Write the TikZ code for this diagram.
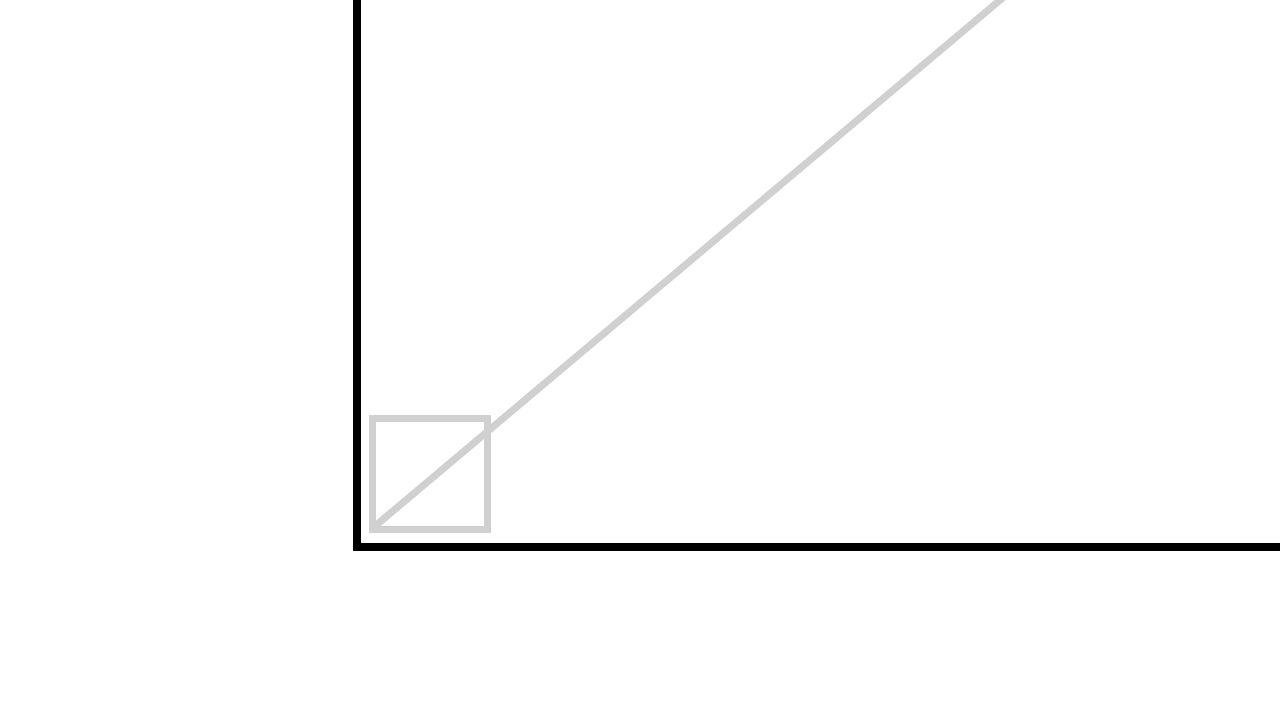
\documentclass[tikz,border=0pt]{standalone}
\usetikzlibrary{positioning}
\definecolor{lightgraybox}{RGB}{208,208,208}
\begin{document}
\begin{tikzpicture}
\useasboundingbox (0,0) rectangle (12.8,7.2);
\clip (0,0) rectangle (12.8,7.2);
\begin{scope}[every node/.style={draw=lightgraybox, line width=2pt, inner sep=0cm, minimum width=1.15cm, minimum height=1.11cm}]
    \node (box) at (4.30,2.46) {};
\end{scope}
\coordinate (origin) at (3.57,1.73);
\coordinate (ytop) at (3.57,7.4);
\coordinate (xend) at (12.9,1.73);
\coordinate (start) at (3.74,1.93);
\coordinate (tip) at (10.12,7.3);
\begin{scope}[every path/.style={line join=miter}]
    \draw[lightgraybox, line width=2pt] (start) -- (tip);
    \draw[black, line width=2.3pt] (ytop) -- (origin) -- (xend);
\end{scope}
\end{tikzpicture}
\end{document}
